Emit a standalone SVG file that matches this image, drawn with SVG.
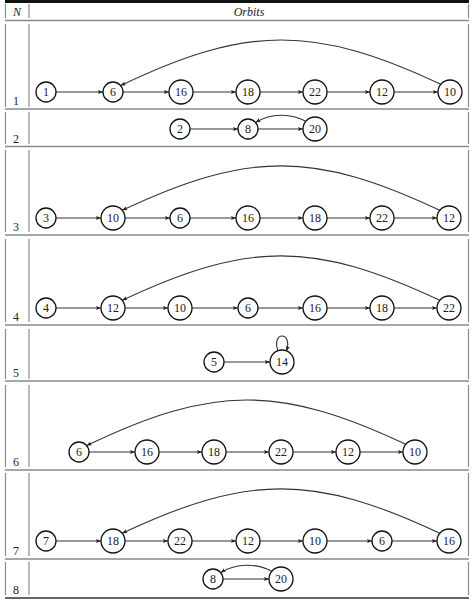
<svg xmlns="http://www.w3.org/2000/svg" width="474" height="609" viewBox="0 0 474 609">
<style>
.hl{stroke:#8a8a8a;stroke-width:1.5;fill:none}
.vl{stroke:#8a8a8a;stroke-width:1.2;fill:none}
.n circle{fill:#fff;stroke:#111;stroke-width:1.3}
.n text{font-family:"Liberation Serif","Times New Roman",serif;font-size:12px;fill:#222;text-anchor:middle}
.lbl{font-family:"Liberation Serif","Times New Roman",serif;font-size:12px;fill:#222;text-anchor:middle}
.hd{font-family:"Liberation Serif","Times New Roman",serif;font-size:12px;font-style:italic;fill:#222;text-anchor:middle}
.e{stroke:#333;stroke-width:1.1;fill:none;marker-end:url(#a)}
</style>
<defs>
<marker id="a" markerWidth="6" markerHeight="6" refX="5" refY="3" orient="auto" markerUnits="userSpaceOnUse">
<path d="M0,0.9 L5,3 L0,5.1 L1,3 z" fill="#222"/>
</marker>
</defs>
<rect width="474" height="609" fill="#fff"/>
<g id="table">
<rect x="5" y="0" width="464" height="3" fill="#111"/>
<line class="hl" x1="5" y1="20.5" x2="469" y2="20.5"/>
<line class="hl" x1="5" y1="109" x2="469" y2="109"/>
<line class="hl" x1="5" y1="146.5" x2="469" y2="146.5"/>
<line class="hl" x1="5" y1="235" x2="469" y2="235"/>
<line class="hl" x1="5" y1="325" x2="469" y2="325"/>
<line class="hl" x1="5" y1="381" x2="469" y2="381"/>
<line class="hl" x1="5" y1="470" x2="469" y2="470"/>
<line class="hl" x1="5" y1="559" x2="469" y2="559"/>
<line x1="5" y1="598" x2="469" y2="598" stroke="#333" stroke-width="1.6"/>
<path class="vl" d="M5.5,4V18M29,4V18M468.5,4V18M5.5,24V107M29,24V107M468.5,24V107M5.5,112V144M29,112V144M468.5,112V144M5.5,150V232M29,150V232M468.5,150V232M5.5,239V322M29,239V322M468.5,239V322M5.5,329V379M29,329V379M468.5,329V379M5.5,385V467M29,385V467M468.5,385V467M5.5,473V556M29,473V556M468.5,473V556M5.5,562V595M29,562V595M468.5,562V595"/>
<text class="hd" x="17" y="15.5">N</text>
<text class="hd" x="249" y="15.5">Orbits</text>
<text class="lbl" x="16" y="105">1</text>
<text class="lbl" x="16" y="142.5">2</text>
<text class="lbl" x="16" y="231">3</text>
<text class="lbl" x="16" y="321">4</text>
<text class="lbl" x="16" y="376.5">5</text>
<text class="lbl" x="16" y="466">6</text>
<text class="lbl" x="16" y="555">7</text>
<text class="lbl" x="16" y="594">8</text>
</g>
<g id="connectors">
<path class="e" d="M56,92H103"/>
<path class="e" d="M123,92H169"/>
<path class="e" d="M193,92H236"/>
<path class="e" d="M260,92H303"/>
<path class="e" d="M327,92H370"/>
<path class="e" d="M394,92H438"/>
<path class="e" d="M440.8,84.3C314.8,25 246.7,25 120.7,85.6"/>
<path class="e" d="M190,129H238"/>
<path class="e" d="M258,129H303"/>
<path class="e" d="M305.8,121.3C291,113 270,113 255.7,122.6"/>
<path class="e" d="M56,218H101"/>
<path class="e" d="M125,218H170"/>
<path class="e" d="M190,218H236"/>
<path class="e" d="M260,218H303"/>
<path class="e" d="M327,218H370"/>
<path class="e" d="M394,218H437"/>
<path class="e" d="M439.8,210.3C313.8,151 248.2,151 122.2,210.3"/>
<path class="e" d="M56,308H101"/>
<path class="e" d="M125,308H168"/>
<path class="e" d="M192,308H238"/>
<path class="e" d="M258,308H303"/>
<path class="e" d="M327,308H370"/>
<path class="e" d="M394,308H437"/>
<path class="e" d="M439.8,300.3C313.8,241 248.2,241 122.2,300.3"/>
<path class="e" d="M224,362H270"/>
<path class="e" d="M278,351C271,331 293,331 286.5,351"/>
<path class="e" d="M89,452H135"/>
<path class="e" d="M159,452H202"/>
<path class="e" d="M226,452H269"/>
<path class="e" d="M293,452H336"/>
<path class="e" d="M360,452H403"/>
<path class="e" d="M405.8,444.3C279.8,385 212.7,385 86.7,445.6"/>
<path class="e" d="M56,541H101"/>
<path class="e" d="M125,541H168"/>
<path class="e" d="M192,541H236"/>
<path class="e" d="M260,541H303"/>
<path class="e" d="M327,541H372"/>
<path class="e" d="M392,541H437"/>
<path class="e" d="M439.8,533.3C313.8,474 248.2,474 122.2,533.3"/>
<path class="e" d="M223,579H269"/>
<path class="e" d="M271.8,571.3C257,563 236,563 220.7,572.6"/>
</g>
<g id="r1-1" class="n"><circle cx="46" cy="92" r="10"/><text x="46" y="96.2">1</text></g>
<g id="r1-6" class="n"><circle cx="113" cy="92" r="10"/><text x="113" y="96.2">6</text></g>
<g id="r1-16" class="n"><circle cx="181" cy="92" r="12"/><text x="181" y="96.2">16</text></g>
<g id="r1-18" class="n"><circle cx="248" cy="92" r="12"/><text x="248" y="96.2">18</text></g>
<g id="r1-22" class="n"><circle cx="315" cy="92" r="12"/><text x="315" y="96.2">22</text></g>
<g id="r1-12" class="n"><circle cx="382" cy="92" r="12"/><text x="382" y="96.2">12</text></g>
<g id="r1-10" class="n"><circle cx="450" cy="92" r="12"/><text x="450" y="96.2">10</text></g>
<g id="r2-2" class="n"><circle cx="180" cy="129" r="10"/><text x="180" y="133.2">2</text></g>
<g id="r2-8" class="n"><circle cx="248" cy="129" r="10"/><text x="248" y="133.2">8</text></g>
<g id="r2-20" class="n"><circle cx="315" cy="129" r="12"/><text x="315" y="133.2">20</text></g>
<g id="r3-3" class="n"><circle cx="46" cy="218" r="10"/><text x="46" y="222.2">3</text></g>
<g id="r3-10" class="n"><circle cx="113" cy="218" r="12"/><text x="113" y="222.2">10</text></g>
<g id="r3-6" class="n"><circle cx="180" cy="218" r="10"/><text x="180" y="222.2">6</text></g>
<g id="r3-16" class="n"><circle cx="248" cy="218" r="12"/><text x="248" y="222.2">16</text></g>
<g id="r3-18" class="n"><circle cx="315" cy="218" r="12"/><text x="315" y="222.2">18</text></g>
<g id="r3-22" class="n"><circle cx="382" cy="218" r="12"/><text x="382" y="222.2">22</text></g>
<g id="r3-12" class="n"><circle cx="449" cy="218" r="12"/><text x="449" y="222.2">12</text></g>
<g id="r4-4" class="n"><circle cx="46" cy="308" r="10"/><text x="46" y="312.2">4</text></g>
<g id="r4-12" class="n"><circle cx="113" cy="308" r="12"/><text x="113" y="312.2">12</text></g>
<g id="r4-10" class="n"><circle cx="180" cy="308" r="12"/><text x="180" y="312.2">10</text></g>
<g id="r4-6" class="n"><circle cx="248" cy="308" r="10"/><text x="248" y="312.2">6</text></g>
<g id="r4-16" class="n"><circle cx="315" cy="308" r="12"/><text x="315" y="312.2">16</text></g>
<g id="r4-18" class="n"><circle cx="382" cy="308" r="12"/><text x="382" y="312.2">18</text></g>
<g id="r4-22" class="n"><circle cx="449" cy="308" r="12"/><text x="449" y="312.2">22</text></g>
<g id="r5-5" class="n"><circle cx="214" cy="362" r="10"/><text x="214" y="366.2">5</text></g>
<g id="r5-14" class="n"><circle cx="282" cy="362" r="12"/><text x="282" y="366.2">14</text></g>
<g id="r6-6" class="n"><circle cx="79" cy="452" r="10"/><text x="79" y="456.2">6</text></g>
<g id="r6-16" class="n"><circle cx="147" cy="452" r="12"/><text x="147" y="456.2">16</text></g>
<g id="r6-18" class="n"><circle cx="214" cy="452" r="12"/><text x="214" y="456.2">18</text></g>
<g id="r6-22" class="n"><circle cx="281" cy="452" r="12"/><text x="281" y="456.2">22</text></g>
<g id="r6-12" class="n"><circle cx="348" cy="452" r="12"/><text x="348" y="456.2">12</text></g>
<g id="r6-10" class="n"><circle cx="415" cy="452" r="12"/><text x="415" y="456.2">10</text></g>
<g id="r7-7" class="n"><circle cx="46" cy="541" r="10"/><text x="46" y="545.2">7</text></g>
<g id="r7-18" class="n"><circle cx="113" cy="541" r="12"/><text x="113" y="545.2">18</text></g>
<g id="r7-22" class="n"><circle cx="180" cy="541" r="12"/><text x="180" y="545.2">22</text></g>
<g id="r7-12" class="n"><circle cx="248" cy="541" r="12"/><text x="248" y="545.2">12</text></g>
<g id="r7-10" class="n"><circle cx="315" cy="541" r="12"/><text x="315" y="545.2">10</text></g>
<g id="r7-6" class="n"><circle cx="382" cy="541" r="10"/><text x="382" y="545.2">6</text></g>
<g id="r7-16" class="n"><circle cx="449" cy="541" r="12"/><text x="449" y="545.2">16</text></g>
<g id="r8-8" class="n"><circle cx="213" cy="579" r="10"/><text x="213" y="583.2">8</text></g>
<g id="r8-20" class="n"><circle cx="281" cy="579" r="12"/><text x="281" y="583.2">20</text></g>
</svg>
